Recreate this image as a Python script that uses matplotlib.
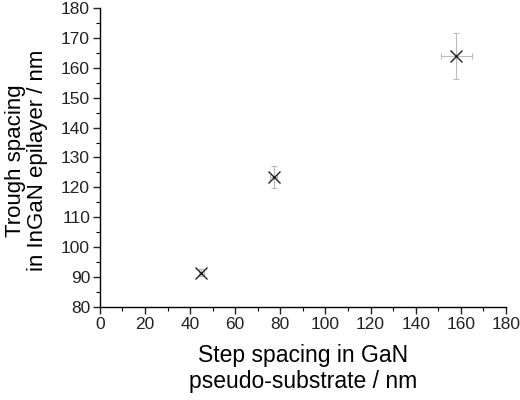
import numpy as np
import matplotlib.pyplot as plt
from matplotlib.ticker import MultipleLocator

plt.rcParams['font.family'] = ['Liberation Sans', 'DejaVu Sans']

# data
step_spacing = [45.0, 77.0, 158.0]
trough_spacing = [91.5, 123.6, 164.0]
step_err = [1.0, 1.5, 6.9]
trough_err = [1.2, 3.7, 7.6]

fig = plt.figure(figsize=(5.2, 4.0), dpi=100)
ax = fig.add_axes([0.192, 0.2325, 0.781, 0.7475])

ax.errorbar(step_spacing, trough_spacing, xerr=step_err, yerr=trough_err,
            fmt='none', ecolor='#bbbbbb', elinewidth=0.8, capsize=2.5, capthick=0.8)
ax.plot(step_spacing, trough_spacing, 'x', color='#222222', markersize=8, markeredgewidth=1.0)

ax.set_xlim(0, 180)
ax.set_ylim(80, 180)
ax.xaxis.set_major_locator(MultipleLocator(20))
ax.xaxis.set_minor_locator(MultipleLocator(10))
ax.yaxis.set_major_locator(MultipleLocator(10))
ax.yaxis.set_minor_locator(MultipleLocator(5))

for s in ['top', 'right']:
    ax.spines[s].set_visible(False)
for s in ['left', 'bottom']:
    ax.spines[s].set_linewidth(1.0)
ax.tick_params(which='major', direction='out', length=5, width=1.0, labelsize=12.5,
               colors='#222222', pad=2)
ax.tick_params(which='minor', direction='out', length=3, width=0.8)

ax.set_xlabel('Step spacing in GaN\npseudo-substrate / nm', fontsize=16.5, linespacing=1.15)
ax.set_ylabel('Trough spacing\nin InGaN epilayer / nm', fontsize=16, linespacing=1.05)
ax.xaxis.set_label_coords(0.5, -0.125)
ax.yaxis.set_label_coords(-0.128, 0.49)

fig.savefig('out.png', dpi=100)
